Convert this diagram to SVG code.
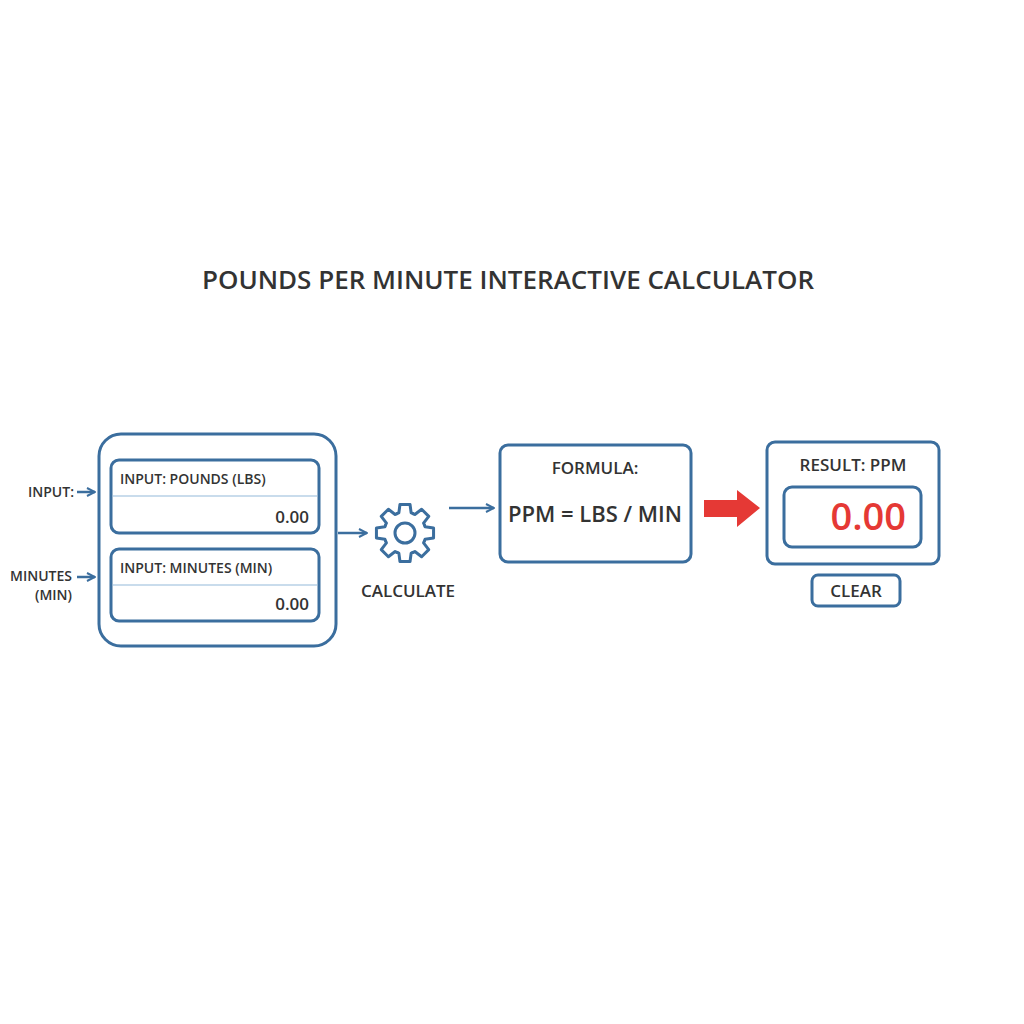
<svg xmlns="http://www.w3.org/2000/svg" xmlns:xlink="http://www.w3.org/1999/xlink" width="1024" height="1024" viewBox="0 0 1024 1024">
<style>
.box{fill:#fff;stroke:#3b6e9e;stroke-width:3}
.t{font-family:"Open Sans","Liberation Sans",sans-serif;fill:#333;font-weight:600}
.ln{stroke:#3b6e9e;stroke-width:2.5;fill:none}
.div{stroke:#c9dcec;stroke-width:2}
</style>
<defs>
<marker id="ah" viewBox="0 0 10 10" refX="9" refY="5" markerWidth="4" markerHeight="4" orient="auto"><path d="M1,1 L9,5 L1,9" fill="none" stroke="#3b6e9e" stroke-width="2"/></marker>
<path id="tooth" d="M-8.04,-19.4 A21,21 0 0 1 -6.14,-20.08 L-5.04,-28.56 L5.04,-28.56 L6.14,-20.08 A21,21 0 0 1 8.04,-19.4" fill="none" stroke="#3b6e9e" stroke-width="3" stroke-linejoin="round" stroke-linecap="round"/>
</defs>
<rect width="1024" height="1024" fill="#fff"/>
<text class="t" x="508" y="289" font-size="26" text-anchor="middle">POUNDS PER MINUTE INTERACTIVE CALCULATOR</text>
<g id="connectors">
<line class="ln" x1="77" y1="492" x2="95" y2="492" marker-end="url(#ah)"/>
<line class="ln" x1="77" y1="577" x2="95" y2="577" marker-end="url(#ah)"/>
<line class="ln" x1="338" y1="533" x2="367" y2="533" marker-end="url(#ah)"/>
<line class="ln" x1="449" y1="508" x2="494" y2="508" marker-end="url(#ah)"/>
<path d="M704,500 H737 V490 L760,508 L737,527 V517 H704 Z" fill="#e53935"/>
</g>
<g id="labels">
<text class="t" x="74" y="497" font-size="14" text-anchor="end">INPUT:</text>
<text class="t" x="72" y="581" font-size="14" text-anchor="end">MINUTES</text>
<text class="t" x="72" y="600" font-size="14" text-anchor="end">(MIN)</text>
</g>
<g id="inputs">
<rect class="box" x="99" y="434" width="237" height="212" rx="22"/>
<rect class="box" x="111" y="460" width="208" height="73" rx="8"/>
<line class="div" x1="113" y1="496" x2="317" y2="496"/>
<text class="t" x="120" y="484" font-size="14">INPUT: POUNDS (LBS)</text>
<text class="t" x="309" y="523" font-size="17" text-anchor="end">0.00</text>
<rect class="box" x="111" y="549" width="208" height="72" rx="8"/>
<line class="div" x1="113" y1="585" x2="317" y2="585"/>
<text class="t" x="120" y="573" font-size="14">INPUT: MINUTES (MIN)</text>
<text class="t" x="309" y="610" font-size="17" text-anchor="end">0.00</text>
</g>
<g id="calculate">
<g transform="translate(405,533)">
<use xlink:href="#tooth"/>
<use xlink:href="#tooth" transform="rotate(45)"/>
<use xlink:href="#tooth" transform="rotate(90)"/>
<use xlink:href="#tooth" transform="rotate(135)"/>
<use xlink:href="#tooth" transform="rotate(180)"/>
<use xlink:href="#tooth" transform="rotate(225)"/>
<use xlink:href="#tooth" transform="rotate(270)"/>
<use xlink:href="#tooth" transform="rotate(315)"/>
<circle r="10" fill="none" stroke="#3b6e9e" stroke-width="3"/>
</g>
<text class="t" x="408" y="597" font-size="17" text-anchor="middle">CALCULATE</text>
</g>
<g id="formula">
<rect class="box" x="500" y="445" width="191" height="117" rx="8"/>
<text class="t" x="595" y="474" font-size="17" text-anchor="middle">FORMULA:</text>
<text class="t" x="595" y="522" font-size="22" text-anchor="middle">PPM = LBS / MIN</text>
</g>
<g id="result">
<rect class="box" x="767" y="442" width="172" height="122" rx="8"/>
<text class="t" x="853" y="471" font-size="17" text-anchor="middle">RESULT: PPM</text>
<rect class="box" x="784" y="487" width="137" height="60" rx="8"/>
<text x="906" y="530" font-size="38" text-anchor="end" font-family="Open Sans,Liberation Sans,sans-serif" font-weight="600" fill="#e53935">0.00</text>
</g>
<g id="clear">
<rect class="box" x="812" y="575" width="88" height="31" rx="6"/>
<text class="t" x="856" y="597" font-size="17" text-anchor="middle">CLEAR</text>
</g>
</svg>
